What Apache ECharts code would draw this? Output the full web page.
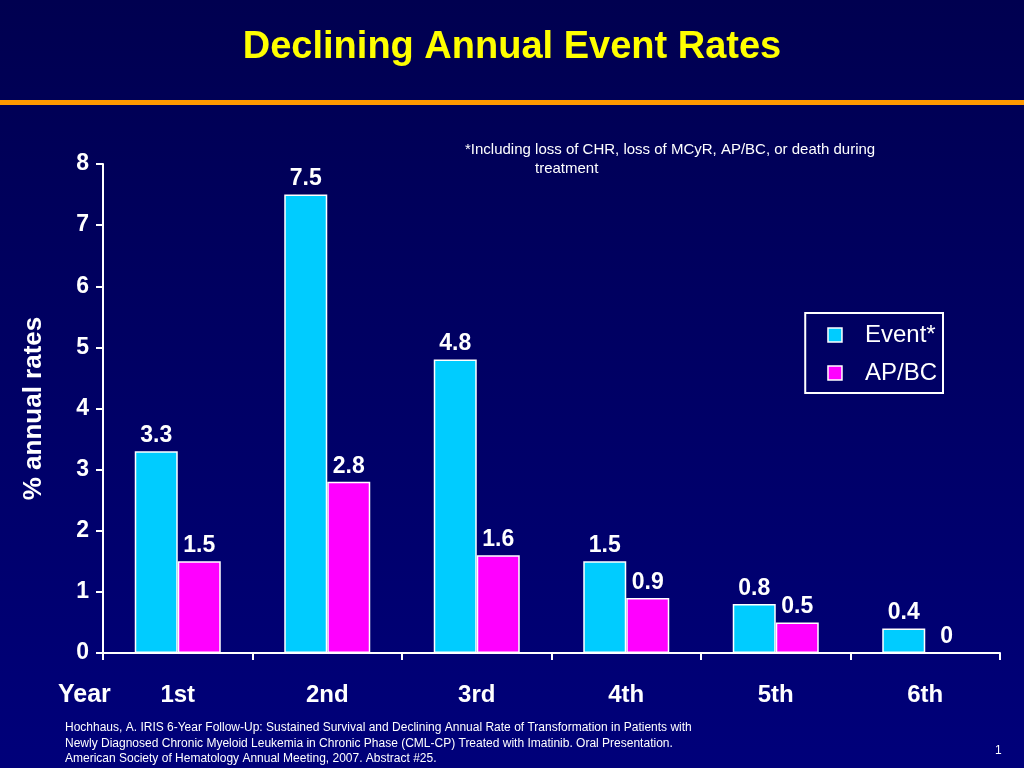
<!DOCTYPE html>
<html><head><meta charset="utf-8">
<script src="https://cdn.jsdelivr.net/npm/echarts@6/dist/echarts.min.js"></script>
<style>html,body{margin:0;padding:0;background:#000066}#c{width:1024px;height:768px}</style>
</head><body><div id="c"></div>
<script>
const years = ['1st', '2nd', '3rd', '4th', '5th', '6th']
const eventRates = [3.3, 7.5, 4.8, 1.5, 0.8, 0.4]
const apbcRates = [1.5, 2.8, 1.6, 0.9, 0.5, 0]
const yTicks = [0, 8, 1]

let chart = echarts.init(document.getElementById('c'))
const font = 'Arial, "Liberation Sans", sans-serif'
const lbl = {show: true, position: 'top', color: '#fff', fontSize: 23, fontWeight: 'bold', fontFamily: font, distance: 4}

chart.setOption({
    backgroundColor: {type: 'linear', x: 0, y: 0, x2: 0, y2: 1,
        colorStops: [{offset: 0, color: '#000050'}, {offset: 1, color: '#00007a'}]},
    animation: false,
    title: {text: 'Declining Annual Event Rates', left: 'center', top: 24,
        textStyle: {color: '#ffff00', fontSize: 38, fontWeight: 'bold', fontFamily: font}},
    grid: {left: 103, right: 24, top: 164, bottom: 115},
    legend: {right: 81, top: 313, orient: 'vertical', itemWidth: 14, itemHeight: 14, itemGap: 14,
        padding: [10, 6, 8, 22], borderColor: '#fff', borderWidth: 2,
        textStyle: {color: '#fff', fontSize: 24, fontFamily: font, padding: [0, 0, 0, 18]},
        data: [{name: 'Event*', icon: 'rect', itemStyle: {borderColor: '#fff', borderWidth: 1.5}},
               {name: 'AP/BC', icon: 'rect', itemStyle: {borderColor: '#fff', borderWidth: 1.5}}]},
    xAxis: {type: 'category', data: years,
        axisLine: {lineStyle: {color: '#fff', width: 2}},
        axisTick: {show: true, alignWithLabel: false, length: 7, lineStyle: {color: '#fff', width: 2}},
        axisLabel: {color: '#fff', fontSize: 24, fontWeight: 'bold', fontFamily: font, margin: 30}},
    yAxis: {type: 'value', min: yTicks[0], max: yTicks[1], interval: yTicks[2],
        name: '% annual rates', nameLocation: 'middle', nameGap: 56, nameRotate: 90,
        nameTextStyle: {color: '#fff', fontSize: 26, fontWeight: 'bold', fontFamily: font},
        splitLine: {show: false},
        axisLine: {show: true, lineStyle: {color: '#fff', width: 2}},
        axisTick: {show: true, length: 7, lineStyle: {color: '#fff', width: 2}},
        axisLabel: {color: '#fff', fontSize: 23, fontWeight: 'bold', fontFamily: font, margin: 14}},
    series: [
        {name: 'Event*', type: 'bar', data: eventRates, barWidth: 43, barGap: '0%',
            itemStyle: {color: '#00ccff', borderColor: '#fff', borderWidth: 1.5}, label: lbl},
        {name: 'AP/BC', type: 'bar', data: apbcRates, barWidth: 43,
            itemStyle: {color: '#ff00ff', borderColor: '#fff', borderWidth: 1.5}, label: lbl}
    ],
    graphic: [
        {type: 'rect', shape: {x: 0, y: 100, width: 1024, height: 5}, style: {fill: '#ff9900'}},
        {type: 'text', left: 465, top: 142, style: {text: '*Including loss of CHR, loss of MCyR, AP/BC, or death during', fill: '#fff', fontSize: 15, fontFamily: font}},
        {type: 'text', left: 535, top: 161, style: {text: 'treatment', fill: '#fff', fontSize: 15, fontFamily: font}},
        {type: 'text', left: 58, top: 683, style: {text: 'Year', fill: '#fff', fontSize: 25, fontWeight: 'bold', fontFamily: font}},
        {type: 'text', left: 65, top: 720, style: {text: 'Hochhaus, A. IRIS 6-Year Follow-Up: Sustained Survival and Declining Annual Rate of Transformation in Patients with\nNewly Diagnosed Chronic Myeloid Leukemia in Chronic Phase (CML-CP) Treated with Imatinib. Oral Presentation.\nAmerican Society of Hematology Annual Meeting, 2007. Abstract #25.', fill: '#fff', fontSize: 12, lineHeight: 15.5, fontFamily: font}},
        {type: 'text', left: 995, top: 745, style: {text: '1', fill: '#fff', fontSize: 12, fontFamily: font}}
    ]
})
</script></body></html>
